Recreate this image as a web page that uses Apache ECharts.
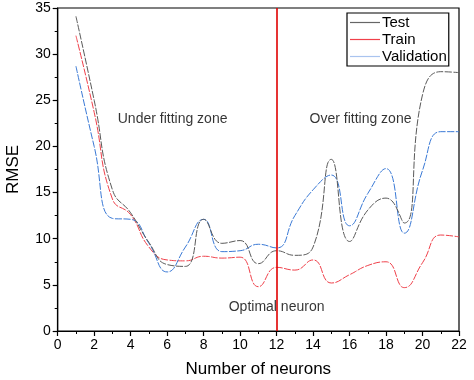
<!DOCTYPE html>
<html><head><meta charset="utf-8">
<script src="https://cdn.jsdelivr.net/npm/echarts@6/dist/echarts.min.js"></script>
<style>html,body{margin:0;padding:0;background:#fff}#c{width:474px;height:380px}</style>
</head><body><div id="c"></div>
<script>
const neurons = [1,2,3,4,5,6,7,8,9,10,11,12,13,14,15,16,17,18,19,20,21,22];
const testRMSE = [34.1,25,15.3,12.8,9.6,7.2,7.0,12.1,9.5,9.8,7.3,8.7,8.2,9.1,18.6,9.7,13.1,14.4,11.7,25.6,28.1,28.0];
const trainRMSE = [32,23.7,14.3,12.6,9.1,7.7,7.6,8.1,7.9,8.0,4.8,6.9,6.6,7.7,5.2,6.1,7.1,7.5,4.7,7.4,10.4,10.2];
const validRMSE = [28.7,20,12.2,12.1,9.5,6.4,9.1,12.1,8.6,8.7,9.4,9.0,12.5,15.3,16.9,11.4,14.9,17.6,10.6,17.4,21.6,21.6];
const optimalNeuron = 12;
const annotations = [
  {name:'Under fitting zone', x:6.3, y:23},
  {name:'Over fitting zone', x:16.6, y:23},
  {name:'Optimal neuron', x:12, y:2.6}
];
const xTicks = {min:0, max:22, interval:2};
const yTicks = {min:0, max:35, interval:5};

const font = 'Liberation Sans, Arial, sans-serif';
const pair = arr => neurons.map((n,i)=>[n, arr[i]]);
const chart = echarts.init(document.getElementById('c'), null, {renderer:'canvas'});
chart.setOption({
  animation:false,
  backgroundColor:'#fff',
  grid:{left:57.7, right:15, top:8, bottom:49, show:true, borderColor:'#000', borderWidth:1.2,
        backgroundColor:'transparent', containLabel:false, outerBoundsMode:'none'},
  legend:{
    orient:'vertical', left:347, top:13,
    data:['Test','Train','Validation'],
    icon:'rect',
    borderColor:'#000', borderWidth:1.2, padding:[2,2,2,3], itemGap:2,
    itemWidth:30, itemHeight:1.2,
    textStyle:{fontFamily:font, fontSize:15, color:'#000', padding:[0,0,0,-3]}
  },
  xAxis:{
    type:'value', min:xTicks.min, max:xTicks.max, interval:xTicks.interval,
    name:'Number of neurons', nameLocation:'middle', nameGap:30,
    nameTextStyle:{fontFamily:font, fontSize:17, color:'#000'},
    axisLine:{lineStyle:{color:'#000', width:1.2}},
    axisTick:{show:true, inside:false, length:5, lineStyle:{color:'#000', width:1.2}},
    minorTick:{show:true, splitNumber:2, length:3, lineStyle:{color:'#000', width:1}},
    axisLabel:{fontFamily:font, fontSize:14, color:'#000', margin:7},
    splitLine:{show:false}
  },
  yAxis:{
    type:'value', min:yTicks.min, max:yTicks.max, interval:yTicks.interval,
    name:'RMSE', nameLocation:'middle', nameGap:36,
    nameTextStyle:{fontFamily:font, fontSize:17, color:'#000'},
    axisLine:{show:true, lineStyle:{color:'#000', width:1.2}},
    axisTick:{show:true, inside:false, length:5, lineStyle:{color:'#000', width:1.2}},
    minorTick:{show:true, splitNumber:2, length:3, lineStyle:{color:'#000', width:1}},
    axisLabel:{fontFamily:font, fontSize:14, color:'#000', margin:7},
    splitLine:{show:false}
  },
  series:[
    {name:'Test', type:'line', data:pair(testRMSE), smooth:0.5, symbol:'none',
     color:'#666', lineStyle:{color:'#5a5a5a', width:1, type:[7,1.5]}, z:3,
     markLine:{silent:true, symbol:'none', label:{show:false},
       lineStyle:{color:'#e00000', width:1.6, type:'solid'},
       data:[{xAxis:optimalNeuron}]}},
    {name:'Train', type:'line', data:pair(trainRMSE), smooth:0.5, symbol:'none',
     color:'#f0404a', lineStyle:{color:'#f0404a', width:1, type:[7,1.5]}, z:2},
    {name:'Validation', type:'line', data:pair(validRMSE), smooth:0.5, symbol:'none',
     color:'#a9c4ef', lineStyle:{color:'#3b7ad6', width:1, type:[7,1.5]}, z:2},
    {name:'notes', type:'scatter', symbolSize:0, silent:true,
     data:annotations.map(a=>({name:a.name, value:[a.x,a.y]})),
     label:{show:true, position:'inside', formatter:p=>p.name, fontFamily:font, fontSize:14, color:'#000'}}
  ]
});
</script></body></html>
